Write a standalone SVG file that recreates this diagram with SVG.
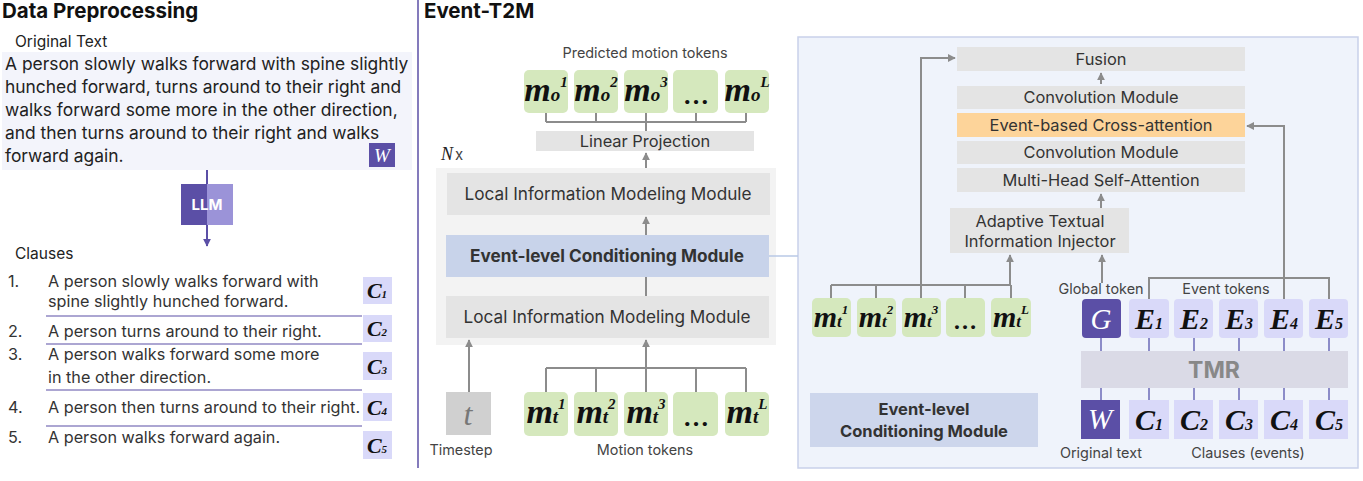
<svg xmlns="http://www.w3.org/2000/svg" width="1363" height="481" viewBox="0 0 1363 481">
<defs>
<style>
text{font-family:Inter,"Noto Sans","Liberation Sans",sans-serif;fill:#222}
.h{font-size:20.5px;font-weight:700;fill:#111}
.lt{font-size:17.4px}
.sm{font-size:16.2px;fill:#333}
.cap{font-size:14.4px;fill:#444}
.box{fill:#e4e4e4}
.bt{font-size:16.4px;fill:#333;text-anchor:middle}
.g{fill:#d5e8bd}
.lav{fill:#d9d9f9}
.dk{fill:#5b4fa6}
.m{font-family:"Liberation Serif",serif;font-weight:700;font-style:italic;fill:#111;text-anchor:middle}
.ln{stroke:#8c8c8c;stroke-width:2;fill:none}
.pl{stroke:#8c8cc8;stroke-width:2;fill:none}
.sep{stroke:#5b4fa6;stroke-width:1.2}
</style>
<marker id="ah" viewBox="0 0 10 10" refX="9" refY="5" markerWidth="4" markerHeight="4" orient="auto"><path d="M0,0L10,5L0,10z" fill="#8c8c8c"/></marker>
<marker id="ap" viewBox="0 0 10 10" refX="9" refY="5" markerWidth="4" markerHeight="4" orient="auto"><path d="M0,0L10,5L0,10z" fill="#5b4fa6"/></marker>
</defs>
<rect width="1363" height="481" fill="#fff"/>

<!-- Left panel -->
<g id="left">
<text class="h" x="2" y="18">Data Preprocessing</text>
<text x="15" y="47" style="font-size:15.5px">Original Text</text>
<rect x="2" y="52" width="410" height="118" fill="#f3f4fb"/>
<text class="lt" x="5" y="70">A person slowly walks forward with spine slightly</text>
<text class="lt" x="5" y="93">hunched forward, turns around to their right and</text>
<text class="lt" x="5" y="116">walks forward some more in the other direction,</text>
<text class="lt" x="5" y="139">and then turns around to their right and walks</text>
<text class="lt" x="5" y="162">forward again.</text>
<rect class="dk" x="369" y="143" width="26" height="24"/>
<text class="m" x="382" y="162" style="font-weight:400;fill:#fff;font-size:19px">W</text>
</g>
<g id="llm">
<line x1="207" y1="170" x2="207" y2="246" stroke="#5b4fa6" stroke-width="2" marker-end="url(#ap)"/>
<rect x="181" y="184" width="26" height="41" fill="#5b4fa6"/>
<rect x="207" y="184" width="26" height="41" fill="#9b93d8"/>
<text x="207" y="210" style="font-size:15px;font-weight:700;fill:#fff;text-anchor:middle">LLM</text>
</g>
<g id="clauses">
<text x="15" y="259" style="font-size:15.5px">Clauses</text>
<text class="sm" x="8" y="287">1.</text>
<text class="sm" x="48" y="287">A person slowly walks forward with</text>
<text class="sm" x="48" y="307">spine slightly hunched forward.</text>
<line class="sep" x1="46" y1="316" x2="362" y2="316"/>
<text class="sm" x="8" y="337">2.</text>
<text class="sm" x="48" y="337">A person turns around to their right.</text>
<line class="sep" x1="46" y1="344" x2="362" y2="344"/>
<text class="sm" x="8" y="360">3.</text>
<text class="sm" x="48" y="360">A person walks forward some more</text>
<text class="sm" x="48" y="383">in the other direction.</text>
<line class="sep" x1="46" y1="390" x2="362" y2="390"/>
<text class="sm" x="8" y="413">4.</text>
<text class="sm" x="48" y="413">A person then turns around to their right.</text>
<line class="sep" x1="46" y1="426" x2="362" y2="426"/>
<text class="sm" x="8" y="443">5.</text>
<text class="sm" x="48" y="443">A person walks forward again.</text>
<rect class="lav" x="363" y="277" width="29" height="27"/>
<rect class="lav" x="363" y="315" width="29" height="27"/>
<rect class="lav" x="363" y="352" width="29" height="28"/>
<rect class="lav" x="363" y="393" width="29" height="28"/>
<rect class="lav" x="363" y="431" width="29" height="28"/>
<text class="m" x="377" y="298" style="font-size:22px">C<tspan font-size="11">1</tspan></text>
<text class="m" x="377" y="336" style="font-size:22px">C<tspan font-size="11">2</tspan></text>
<text class="m" x="377" y="374" style="font-size:22px">C<tspan font-size="11">3</tspan></text>
<text class="m" x="377" y="415" style="font-size:22px">C<tspan font-size="11">4</tspan></text>
<text class="m" x="377" y="453" style="font-size:22px">C<tspan font-size="11">5</tspan></text>
</g>
<line x1="418" y1="0" x2="418" y2="468" stroke="#5b4fa6" stroke-width="1.5"/>

<!-- Middle -->
<g id="t2m">
<text class="h" x="424" y="18">Event-T2M</text>
<text class="cap" x="645" y="58" text-anchor="middle">Predicted motion tokens</text>
<text x="441" y="160" style="font-family:'Liberation Serif',serif;font-style:italic;font-size:18px">N</text>
<text x="455" y="160" style="font-size:15px;fill:#444">x</text>
<rect x="436" y="168" width="340" height="177" fill="#f3f3f3"/>
</g>
<g id="mo-tokens">
<rect class="g" x="524" y="70" width="44" height="43" rx="5"/>
<rect class="g" x="574" y="70" width="44" height="43" rx="5"/>
<rect class="g" x="624" y="70" width="44" height="43" rx="5"/>
<rect class="g" x="673" y="70" width="45" height="43" rx="5"/>
<rect class="g" x="725" y="70" width="44" height="43" rx="5"/>
<text class="m" x="546" y="101" style="font-size:34px">m<tspan font-size="19">o</tspan><tspan font-size="15" dy="-14">1</tspan></text>
<text class="m" x="596" y="101" style="font-size:34px">m<tspan font-size="19">o</tspan><tspan font-size="15" dy="-14">2</tspan></text>
<text class="m" x="646" y="101" style="font-size:34px">m<tspan font-size="19">o</tspan><tspan font-size="15" dy="-14">3</tspan></text>
<text class="m" x="696" y="104" style="font-size:26px;font-style:normal">…</text>
<text class="m" x="747" y="101" style="font-size:34px">m<tspan font-size="19">o</tspan><tspan font-size="15" dy="-14">L</tspan></text>
</g>
<g id="linproj"><rect class="box" x="536" y="131" width="218" height="20"/><text class="bt" x="645" y="147">Linear Projection</text></g>
<g id="lim-top"><rect class="box" x="447" y="173" width="323" height="42"/><text class="bt" x="608" y="200" style="font-size:17.2px">Local Information Modeling Module</text></g>
<g id="eclm"><rect x="446" y="235" width="323" height="42" fill="#c8d3ea"/><text class="bt" x="607" y="262" style="font-size:17.2px;font-weight:700">Event-level Conditioning Module</text></g>
<g id="lim-bot"><rect class="box" x="446" y="296" width="323" height="42"/><text class="bt" x="607" y="323" style="font-size:17.2px">Local Information Modeling Module</text></g>
<g id="timestep">
<rect x="446" y="392" width="45" height="43" fill="#d0d0d0"/>
<text x="468" y="425" style="font-family:'Liberation Serif',serif;font-style:italic;font-size:32px;fill:#777;text-anchor:middle">t</text>
<text class="cap" x="461" y="455" text-anchor="middle">Timestep</text>
</g>
<g id="mt-tokens">
<rect class="g" x="524" y="392" width="44" height="44" rx="5"/>
<rect class="g" x="574" y="392" width="44" height="44" rx="5"/>
<rect class="g" x="624" y="392" width="44" height="44" rx="5"/>
<rect class="g" x="673" y="392" width="45" height="44" rx="5"/>
<rect class="g" x="725" y="392" width="44" height="44" rx="5"/>
<text class="m" x="546" y="423" style="font-size:34px">m<tspan font-size="19">t</tspan><tspan font-size="15" dy="-14">1</tspan></text>
<text class="m" x="596" y="423" style="font-size:34px">m<tspan font-size="19">t</tspan><tspan font-size="15" dy="-14">2</tspan></text>
<text class="m" x="646" y="423" style="font-size:34px">m<tspan font-size="19">t</tspan><tspan font-size="15" dy="-14">3</tspan></text>
<text class="m" x="696" y="426" style="font-size:26px;font-style:normal">…</text>
<text class="m" x="747" y="423" style="font-size:34px">m<tspan font-size="19">t</tspan><tspan font-size="15" dy="-14">L</tspan></text>
<text class="cap" x="645" y="455" text-anchor="middle">Motion tokens</text>
</g>

<!-- Right panel -->
<g id="panel">
<rect x="798" y="37" width="560" height="431" fill="#eff3fb" stroke="#c9d1ea" stroke-width="1.5"/>
</g>
<g id="fusion"><rect class="box" x="957" y="47" width="288" height="24"/><text class="bt" x="1101" y="65">Fusion</text></g>
<g id="conv1"><rect class="box" x="957" y="86" width="288" height="23"/><text class="bt" x="1101" y="103">Convolution Module</text></g>
<g id="cross"><rect x="957" y="113" width="288" height="24" fill="#fdd49a"/><text class="bt" x="1101" y="131">Event-based Cross-attention</text></g>
<g id="conv2"><rect class="box" x="957" y="141" width="288" height="23"/><text class="bt" x="1101" y="158">Convolution Module</text></g>
<g id="mhsa"><rect class="box" x="957" y="168" width="288" height="24"/><text class="bt" x="1101" y="186">Multi-Head Self-Attention</text></g>
<g id="atii"><rect class="box" x="950" y="208" width="179" height="45"/><text class="bt" x="1040" y="227">Adaptive Textual</text><text class="bt" x="1040" y="247">Information Injector</text></g>
<g id="mt-tokens-r">
<rect class="g" x="812" y="298" width="39" height="39" rx="5"/>
<rect class="g" x="857" y="298" width="39" height="39" rx="5"/>
<rect class="g" x="902" y="298" width="39" height="39" rx="5"/>
<rect class="g" x="946" y="298" width="39" height="39" rx="5"/>
<rect class="g" x="991" y="298" width="40" height="39" rx="5"/>
<text class="m" x="831" y="327" style="font-size:30px">m<tspan font-size="17">t</tspan><tspan font-size="13" dy="-13">1</tspan></text>
<text class="m" x="876" y="327" style="font-size:30px">m<tspan font-size="17">t</tspan><tspan font-size="13" dy="-13">2</tspan></text>
<text class="m" x="921" y="327" style="font-size:30px">m<tspan font-size="17">t</tspan><tspan font-size="13" dy="-13">3</tspan></text>
<text class="m" x="965" y="329" style="font-size:24px;font-style:normal">…</text>
<text class="m" x="1011" y="327" style="font-size:30px">m<tspan font-size="17">t</tspan><tspan font-size="13" dy="-13">L</tspan></text>
</g>
<g id="tokens-r">
<text class="cap" x="1101" y="294" text-anchor="middle">Global token</text>
<text class="cap" x="1226" y="294" text-anchor="middle">Event tokens</text>
<rect class="dk" x="1082" y="299" width="39" height="39" rx="4"/>
<text class="m" x="1101" y="329" style="font-size:29px;font-weight:400;fill:#fff">G</text>
<rect class="lav" x="1129" y="299" width="40" height="39" rx="4"/>
<rect class="lav" x="1174" y="299" width="39" height="39" rx="4"/>
<rect class="lav" x="1219" y="299" width="39" height="39" rx="4"/>
<rect class="lav" x="1264" y="299" width="39" height="39" rx="4"/>
<rect class="lav" x="1309" y="299" width="39" height="39" rx="4"/>
<text class="m" x="1149" y="329" style="font-size:30px">E<tspan font-size="16">1</tspan></text>
<text class="m" x="1194" y="329" style="font-size:30px">E<tspan font-size="16">2</tspan></text>
<text class="m" x="1239" y="329" style="font-size:30px">E<tspan font-size="16">3</tspan></text>
<text class="m" x="1284" y="329" style="font-size:30px">E<tspan font-size="16">4</tspan></text>
<text class="m" x="1329" y="329" style="font-size:30px">E<tspan font-size="16">5</tspan></text>
</g>
<g id="tmr"><rect x="1081" y="351" width="267" height="37" fill="#dadae6"/><text x="1214" y="378" style="font-size:23px;font-weight:700;fill:#888;text-anchor:middle">TMR</text></g>
<g id="inputs-r">
<rect class="dk" x="1081" y="400" width="39" height="39"/>
<text class="m" x="1100" y="429" style="font-size:29px;font-weight:400;fill:#fff">W</text>
<rect class="lav" x="1129" y="400" width="40" height="39"/>
<rect class="lav" x="1174" y="400" width="39" height="39"/>
<rect class="lav" x="1219" y="400" width="39" height="39"/>
<rect class="lav" x="1264" y="400" width="39" height="39"/>
<rect class="lav" x="1309" y="400" width="39" height="39"/>
<text class="m" x="1149" y="430" style="font-size:30px">C<tspan font-size="16">1</tspan></text>
<text class="m" x="1194" y="430" style="font-size:30px">C<tspan font-size="16">2</tspan></text>
<text class="m" x="1239" y="430" style="font-size:30px">C<tspan font-size="16">3</tspan></text>
<text class="m" x="1284" y="430" style="font-size:30px">C<tspan font-size="16">4</tspan></text>
<text class="m" x="1329" y="430" style="font-size:30px">C<tspan font-size="16">5</tspan></text>
<text class="cap" x="1101" y="458" text-anchor="middle">Original text</text>
<text class="cap" x="1248" y="458" text-anchor="middle">Clauses (events)</text>
</g>
<g id="eclm-label"><rect x="810" y="393" width="228" height="54" fill="#cdd6ec"/><text class="bt" x="924" y="415" style="font-size:16.5px;font-weight:700">Event-level</text><text class="bt" x="924" y="437" style="font-size:16.5px;font-weight:700">Conditioning Module</text></g>

<!-- Connectors -->
<g id="connectors">
<path class="ln" d="M546,113V122M596,113V122M696,113V122M746,113V122M546,122H746M646,113V131"/>
<line class="ln" x1="646" y1="168" x2="646" y2="153" marker-end="url(#ah)"/>
<line class="ln" x1="646" y1="235" x2="646" y2="217" marker-end="url(#ah)"/>
<line class="ln" x1="646" y1="277" x2="646" y2="296"/>
<line class="ln" x1="469" y1="392" x2="469" y2="340" marker-end="url(#ah)"/>
<path class="ln" d="M546,392V368M596,392V368M696,392V368M746,392V368M546,368H746"/>
<line class="ln" x1="646" y1="392" x2="646" y2="340" marker-end="url(#ah)"/>
<line x1="769" y1="256" x2="798" y2="256" stroke="#b9c8e6" stroke-width="1.5"/>
<line class="ln" x1="1101" y1="84" x2="1101" y2="73" marker-end="url(#ah)"/>
<line class="ln" x1="1101" y1="208" x2="1101" y2="194" marker-end="url(#ah)"/>
<path class="ln" d="M831,298V285M876,298V285M965,298V285M1011,298V285M831,285H1011"/>
<line class="ln" x1="1010" y1="285" x2="1010" y2="255" marker-end="url(#ah)"/>
<path class="ln" d="M921,298V58H955" marker-end="url(#ah)"/>
<line class="ln" x1="1102" y1="283" x2="1102" y2="255" marker-end="url(#ah)"/>
<path class="ln" d="M1149,299V278H1329V299"/>
<path class="ln" d="M1284,299V126H1247" marker-end="url(#ah)"/>
<path class="pl" d="M1101,338V351M1149,338V351M1194,338V351M1239,338V351M1284,338V351M1329,338V351"/>
<path class="pl" d="M1101,388V400M1149,388V400M1194,388V400M1239,388V400M1284,388V400M1329,388V400"/>
</g>
</svg>
